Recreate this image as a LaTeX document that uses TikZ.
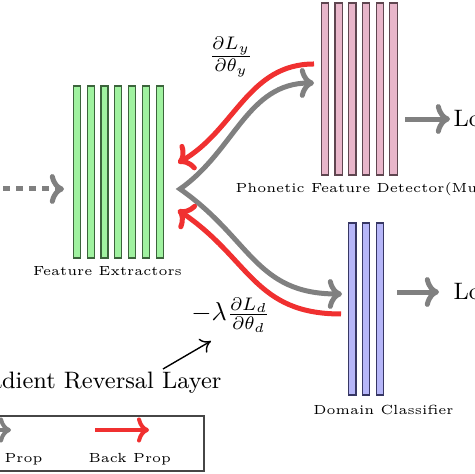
\documentclass[tikz,border=0pt]{standalone}
\usepackage{amsmath}
\usetikzlibrary{arrows.meta}
\definecolor{fegreen}{RGB}{160,242,160}
\definecolor{fedark}{RGB}{60,100,60}
\definecolor{pfdpink}{RGB}{232,182,202}
\definecolor{pfddark}{RGB}{95,70,80}
\definecolor{dcblue}{RGB}{182,182,248}
\definecolor{dcdark}{RGB}{55,55,100}
\definecolor{fwdgray}{RGB}{128,128,128}
\definecolor{bwdred}{RGB}{240,48,48}
\definecolor{legdark}{RGB}{70,70,70}

\begin{document}
\begin{tikzpicture}[x = 0.5pt, y = 0.5pt,
		fwd/.style = {draw=fwdgray, line width=2.5pt, -{Computer Modern Rightarrow}},
		bwd/.style = {draw=bwdred, line width=2.5pt, -{Computer Modern Rightarrow}},
		febar/.style = {draw=fedark, fill=fegreen, line width=0.6pt},
		pfdbar/.style = {draw=pfddark, fill=pfdpink, line width=0.6pt},
		dcbar/.style = {draw=dcdark, fill=dcblue, line width=0.6pt},
		lbl/.style = {font=\tiny, scale=1.32, inner sep=0pt},
		big/.style = {font=\small, scale=1.32, inner sep=0pt},
		grad/.style = {font=\normalsize, scale=1.3, inner sep=0pt}]
	\path[use as bounding box] (0,0) rectangle (474,474);
	\clip (0,0) rectangle (474,474);
	\foreach \i in {0,...,6}
	\draw[febar, shift={(\i*13.8,0)}] (73.3,216) rectangle ++(7,172);
	\foreach \i in {0,...,5}
	\draw[pfdbar, shift={(\i*13.7,0)}] (321.3,299) rectangle ++(7.3,172);
	\foreach \i in {0,...,2}
	\draw[dcbar, shift={(\i*13.8,0)}] (348.7,79) rectangle ++(7.3,172);

	\node[lbl, anchor=base] (fe) at (107.5,198) {Feature Extractors};
	\node[lbl, anchor=base west] (pfd) at (235,281) {Phonetic Feature Detector(Multi-task)};
	\node[lbl, anchor=base] (dc) at (383.5,59) {Domain Classifier};
	\node[big, anchor=base west] (lossy) at (453,347) {Loss};
	\node[big, anchor=base west] (lossd) at (453,174) {Loss};
	\node[big, anchor=base east] (grl) at (222,85) {Gradient Reversal Layer};
	\node[grad] (gy) at (231,417) {$\frac{\partial L_y}{\partial \theta_y}$};
	\node[grad] (gd) at (231,159) {$-\lambda\frac{\partial L_d}{\partial \theta_d}$};

	\coordinate (input) at (-10,285);
	\coordinate (feleft) at (64,285);
	\coordinate (split) at (180,285);
	\coordinate (pfdin) at (314,391);
	\coordinate (pfdred) at (314,410);
	\coordinate (dcin) at (342,180);
	\coordinate (dcred) at (341,160);
	\coordinate (redy) at (178,311);
	\coordinate (redd) at (178,264);
	\coordinate (grlfoot) at (163,105);
	\coordinate (grlhead) at (211,133);

	\draw[fwd, dash pattern=on 3.5pt off 3pt] (input) -- (feleft);
	\draw[fwd, {Computer Modern Rightarrow}-{Computer Modern Rightarrow}] (pfdin) to[out=180, in=35] (split) to[out=-35, in=180, looseness=1.15] (dcin);
	\draw[bwd] (pfdred) to[out=180, in=30] (redy);
	\draw[bwd] (dcred) to[out=180, in=-34, looseness=1.15] (redd);
	\draw[fwd] ([xshift=-24pt]lossy.west) -- ([xshift=-1.5pt]lossy.west);
	\draw[fwd] ([xshift=-28pt]lossd.west) -- ([xshift=-7pt]lossd.west);
	\draw[line width=0.7pt, -{Computer Modern Rightarrow[length=5pt, width=8pt]}] (grlfoot) -- (grlhead);

	\draw[draw=legdark, fill=white, line width=1pt] (-5,3) rectangle (204,58);
	\coordinate (fwdtail) at (-43,44);
	\coordinate (fwdhead) at (11,44);
	\coordinate (bwdtail) at (95,44);
	\coordinate (bwdhead) at (149,44);
	\draw[fwd, line width=2pt] (fwdtail) -- (fwdhead);
	\draw[bwd, line width=2pt] (bwdtail) -- (bwdhead);
	\node[lbl, anchor=base east] (fwdlbl) at (43,12) {Forward Prop};
	\node[lbl, anchor=base west] (bwdlbl) at (88,12) {Back Prop};
\end{tikzpicture}
\end{document}
